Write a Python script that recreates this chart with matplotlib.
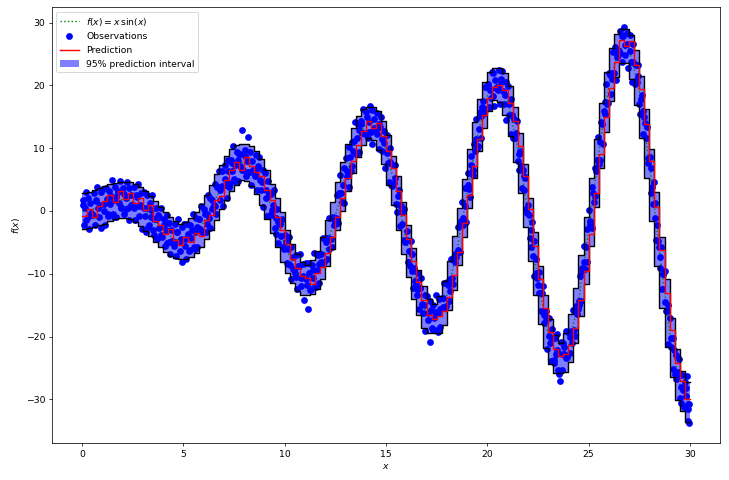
import matplotlib.pyplot as plt

# true curve, every half unit
true_x = [0, 0.5, 1, 1.5, 2, 2.5, 3, 3.5, 4, 4.5, 5, 5.5, 6, 6.5, 7, 7.5, 8, 8.5, 9, 9.5,
          10, 10.5, 11, 11.5, 12, 12.5, 13, 13.5, 14, 14.5, 15, 15.5, 16, 16.5, 17, 17.5,
          18, 18.5, 19, 19.5, 20, 20.5, 21, 21.5, 22, 22.5, 23, 23.5, 24, 24.5, 25, 25.5,
          26, 26.5, 27, 27.5, 28, 28.5, 29, 29.5, 30]
true_y = [0, 0.2, 0.8, 1.5, 1.8, 1.5, 0.4, -1.2, -3.0, -4.4,
          -4.8, -3.9, -1.7, 1.4, 4.6, 7.0, 7.9, 6.8, 3.7, -0.7,
          -5.4, -9.2, -11.0, -10.1, -6.4, -0.8, 5.5, 10.9, 13.9, 13.6,
          9.8, 3.2, -4.6, -11.7, -16.3, -17.1, -13.5, -6.3, 2.8, 11.8,
          18.3, 20.4, 17.6, 10.1, -0.2, -11.0, -19.5, -23.5, -21.7, -14.5,
          -3.3, 9.2, 19.8, 25.9, 25.8, 19.2, 7.6, -6.4, -19.3, -27.8,
          -29.6]

# observations
obs_x = [
    0.03, 0.09, 0.15, 0.21, 0.27, 0.33, 0.39, 0.46, 0.51, 0.57, 0.63, 0.69, 0.75, 0.81, 0.88, 0.94,
    1.03, 1.09, 1.15, 1.21, 1.27, 1.33, 1.39, 1.46, 1.51, 1.57, 1.63, 1.69, 1.75, 1.81, 1.88, 1.94,
    2.03, 2.09, 2.15, 2.21, 2.27, 2.33, 2.39, 2.46, 2.51, 2.57, 2.63, 2.69, 2.75, 2.81, 2.88, 2.94,
    3.03, 3.09, 3.15, 3.21, 3.27, 3.33, 3.39, 3.46, 3.51, 3.57, 3.63, 3.69, 3.75, 3.81, 3.88, 3.94,
    4.03, 4.09, 4.15, 4.21, 4.27, 4.33, 4.39, 4.46, 4.51, 4.57, 4.63, 4.69, 4.75, 4.81, 4.88, 4.94,
    5.03, 5.09, 5.15, 5.21, 5.27, 5.33, 5.39, 5.46, 5.51, 5.57, 5.63, 5.69, 5.75, 5.81, 5.88, 5.94,
    6.03, 6.09, 6.15, 6.21, 6.27, 6.33, 6.39, 6.46, 6.51, 6.57, 6.63, 6.69, 6.75, 6.81, 6.88, 6.94,
    7.03, 7.09, 7.15, 7.21, 7.27, 7.33, 7.39, 7.46, 7.51, 7.57, 7.63, 7.69, 7.75, 7.81, 7.88, 7.94,
    8.03, 8.09, 8.15, 8.21, 8.27, 8.33, 8.39, 8.46, 8.51, 8.57, 8.63, 8.69, 8.75, 8.81, 8.88, 8.94,
    9.03, 9.09, 9.15, 9.21, 9.27, 9.33, 9.39, 9.46, 9.51, 9.57, 9.63, 9.69, 9.75, 9.81, 9.88, 9.94,
    10.03, 10.09, 10.15, 10.21, 10.27, 10.33, 10.39, 10.46, 10.51, 10.57, 10.63, 10.69, 10.75, 10.81, 10.88, 10.94,
    11.03, 11.09, 11.15, 11.21, 11.27, 11.33, 11.39, 11.46, 11.51, 11.57, 11.63, 11.69, 11.75, 11.81, 11.88, 11.94,
    12.03, 12.09, 12.15, 12.21, 12.27, 12.33, 12.39, 12.46, 12.51, 12.57, 12.63, 12.69, 12.75, 12.81, 12.88, 12.94,
    13.03, 13.09, 13.15, 13.21, 13.27, 13.33, 13.39, 13.46, 13.51, 13.57, 13.63, 13.69, 13.75, 13.81, 13.88, 13.94,
    14.03, 14.09, 14.15, 14.21, 14.27, 14.33, 14.39, 14.46, 14.51, 14.57, 14.63, 14.69, 14.75, 14.81, 14.88, 14.94,
    15.03, 15.09, 15.15, 15.21, 15.27, 15.33, 15.39, 15.46, 15.51, 15.57, 15.63, 15.69, 15.75, 15.81, 15.88, 15.94,
    16.03, 16.09, 16.15, 16.21, 16.27, 16.33, 16.39, 16.46, 16.51, 16.57, 16.63, 16.69, 16.75, 16.81, 16.88, 16.94,
    17.03, 17.09, 17.15, 17.21, 17.27, 17.33, 17.39, 17.46, 17.51, 17.57, 17.63, 17.69, 17.75, 17.81, 17.88, 17.94,
    18.03, 18.09, 18.15, 18.21, 18.27, 18.33, 18.39, 18.46, 18.51, 18.57, 18.63, 18.69, 18.75, 18.81, 18.88, 18.94,
    19.03, 19.09, 19.15, 19.21, 19.27, 19.33, 19.39, 19.46, 19.51, 19.57, 19.63, 19.69, 19.75, 19.81, 19.88, 19.94,
    20.03, 20.09, 20.15, 20.21, 20.27, 20.33, 20.39, 20.46, 20.51, 20.57, 20.63, 20.69, 20.75, 20.81, 20.88, 20.94,
    21.03, 21.09, 21.15, 21.21, 21.27, 21.33, 21.39, 21.46, 21.51, 21.57, 21.63, 21.69, 21.75, 21.81, 21.88, 21.94,
    22.03, 22.09, 22.15, 22.21, 22.27, 22.33, 22.39, 22.46, 22.51, 22.57, 22.63, 22.69, 22.75, 22.81, 22.88, 22.94,
    23.03, 23.09, 23.15, 23.21, 23.27, 23.33, 23.39, 23.46, 23.51, 23.57, 23.63, 23.69, 23.75, 23.81, 23.88, 23.94,
    24.03, 24.09, 24.15, 24.21, 24.27, 24.33, 24.39, 24.46, 24.51, 24.57, 24.63, 24.69, 24.75, 24.81, 24.88, 24.94,
    25.03, 25.09, 25.15, 25.21, 25.27, 25.33, 25.39, 25.46, 25.51, 25.57, 25.63, 25.69, 25.75, 25.81, 25.88, 25.94,
    26.03, 26.09, 26.15, 26.21, 26.27, 26.33, 26.39, 26.46, 26.51, 26.57, 26.63, 26.69, 26.75, 26.81, 26.88, 26.94,
    27.03, 27.09, 27.15, 27.21, 27.27, 27.33, 27.39, 27.46, 27.51, 27.57, 27.63, 27.69, 27.75, 27.81, 27.88, 27.94,
    28.03, 28.09, 28.15, 28.21, 28.27, 28.33, 28.39, 28.46, 28.51, 28.57, 28.63, 28.69, 28.75, 28.81, 28.88, 28.94,
    29.03, 29.09, 29.15, 29.21, 29.27, 29.33, 29.39, 29.46, 29.51, 29.57, 29.63, 29.69, 29.75, 29.81, 29.88, 29.94,
    29.90, 29.93, 29.98,
    0.06, 0.18, 0.30, 0.42, 0.55, 0.67, 0.79, 0.91, 1.06, 1.18, 1.30, 1.42, 1.55, 1.67, 1.79, 1.91,
    2.06, 2.18, 2.30, 2.42, 2.55, 2.67, 2.79, 2.91, 3.06, 3.18, 3.30, 3.42, 3.55, 3.67, 3.79, 3.91,
    4.06, 4.18, 4.30, 4.42, 4.55, 4.67, 4.79, 4.91, 5.06, 5.18, 5.30, 5.42, 5.55, 5.67, 5.79, 5.91,
    6.06, 6.18, 6.30, 6.42, 6.55, 6.67, 6.79, 6.91, 7.06, 7.18, 7.30, 7.42, 7.55, 7.67, 7.79, 7.91,
    8.06, 8.18, 8.30, 8.42, 8.55, 8.67, 8.79, 8.91, 9.06, 9.18, 9.30, 9.42, 9.55, 9.67, 9.79, 9.91,
    10.06, 10.18, 10.30, 10.42, 10.55, 10.67, 10.79, 10.91, 11.06, 11.18, 11.30, 11.42, 11.55, 11.67, 11.79, 11.91,
    12.06, 12.18, 12.30, 12.42, 12.55, 12.67, 12.79, 12.91, 13.06, 13.18, 13.30, 13.42, 13.55, 13.67, 13.79, 13.91,
    14.06, 14.18, 14.30, 14.42, 14.55, 14.67, 14.79, 14.91, 15.06, 15.18, 15.30, 15.42, 15.55, 15.67, 15.79, 15.91,
    16.06, 16.18, 16.30, 16.42, 16.55, 16.67, 16.79, 16.91, 17.06, 17.18, 17.30, 17.42, 17.55, 17.67, 17.79, 17.91,
    18.06, 18.18, 18.30, 18.42, 18.55, 18.67, 18.79, 18.91, 19.06, 19.18, 19.30, 19.42, 19.55, 19.67, 19.79, 19.91,
    20.06, 20.18, 20.30, 20.42, 20.55, 20.67, 20.79, 20.91, 21.06, 21.18, 21.30, 21.42, 21.55, 21.67, 21.79, 21.91,
    22.06, 22.18, 22.30, 22.42, 22.55, 22.67, 22.79, 22.91, 23.06, 23.18, 23.30, 23.42, 23.55, 23.67, 23.79, 23.91,
    24.06, 24.18, 24.30, 24.42, 24.55, 24.67, 24.79, 24.91, 25.06, 25.18, 25.30, 25.42, 25.55, 25.67, 25.79, 25.91,
    26.06, 26.18, 26.30, 26.42, 26.55, 26.67, 26.79, 26.91, 27.06, 27.18, 27.30, 27.42, 27.55, 27.67, 27.79, 27.91,
    28.06, 28.18, 28.30, 28.42, 28.55, 28.67, 28.79, 28.91, 29.06, 29.18, 29.30, 29.42, 29.55, 29.67, 29.79, 29.91]
obs_y = [
    1.8, -2.2, 0.5, 3.0, -1.0, -2.9, 1.2, -0.3, -0.4, 2.8, -2.3, 1.6, 3.8, -1.0, 0.9, -2.7,
    3.5, 0.0, -2.2, 1.9, -0.8, 3.2, 1.1, 5.0, -0.4, 1.8, 3.8, -1.0, 3.2, 1.3, 4.7, 0.5,
    3.6, -0.5, 2.1, 4.6, 0.5, -1.4, 2.6, 1.0, 0.9, 3.8, -1.5, 2.3, 4.3, -0.8, 0.9, -2.9,
    3.0, -0.8, -3.3, 0.5, -2.5, 1.2, -1.0, 2.5, -3.1, -1.2, 0.5, -4.5, -0.6, -2.7, 0.4, -4.1,
    -1.3, -5.5, -3.0, -0.7, -4.9, -6.9, -3.1, -4.8, -5.0, -2.0, -7.2, -3.4, -1.3, -6.3, -4.5, -8.2,
    -2.0, -5.5, -7.7, -3.6, -6.3, -2.3, -4.3, -0.4, -5.8, -3.3, -1.1, -5.7, -1.3, -2.9, 0.8, -3.3,
    0.3, -3.3, -0.4, 2.5, -1.1, -2.7, 1.7, 0.6, 0.9, 4.3, -0.5, 3.8, 6.3, 1.8, 4.0, 0.8,
    7.4, 4.1, 2.1, 6.4, 3.9, 8.1, 6.3, 10.4, 5.1, 7.4, 9.4, 4.7, 9.0, 7.2, 12.9, 6.5,
    9.7, 5.5, 8.0, 11.8, 6.2, 4.2, 8.0, 6.4, 6.1, 8.9, 3.3, 6.8, 8.6, 3.3, 4.6, 0.7,
    6.1, 2.0, -0.8, 2.7, -0.7, 2.7, 0.1, 3.3, -2.7, -1.1, 0.3, -5.1, -1.6, -4.0, -1.3, -6.1,
    -3.8, -8.3, -6.1, -4.1, -8.6, -10.9, -7.4, -9.4, -9.8, -7.0, -12.4, -8.7, -6.8, -11.9, -10.4, -14.2,
    -8.3, -11.8, -15.6, -9.9, -12.6, -8.6, -10.6, -6.7, -12.0, -9.4, -7.0, -11.4, -6.8, -8.2, -4.3, -8.2,
    -4.3, -7.6, -4.3, -1.1, -4.5, -5.7, -1.0, -1.7, -1.3, 2.6, -1.9, 2.8, 5.7, 1.5, 4.2, 1.3,
    8.5, 5.6, 3.9, 8.6, 6.4, 11.0, 9.5, 14.1, 9.1, 11.6, 13.9, 9.4, 13.9, 12.4, 16.2, 12.2,
    15.7, 11.7, 14.2, 16.7, 12.6, 10.7, 14.7, 13.1, 12.9, 15.6, 9.9, 13.4, 15.0, 9.6, 10.9, 6.9,
    12.1, 7.7, 4.6, 7.8, 4.2, 7.3, 4.5, 7.3, 1.1, 2.4, 3.4, -2.4, 0.8, -2.0, 0.3, -5.0,
    -3.2, -8.1, -6.3, -4.7, -9.5, -12.3, -9.1, -11.6, -12.4, -9.8, -15.6, -12.2, -10.7, -16.2, -15.0, -19.1,
    -13.6, -17.3, -20.9, -15.8, -18.7, -14.9, -17.1, -13.4, -18.9, -16.3, -14.0, -18.4, -13.8, -15.3, -11.4, -15.2,
    -11.3, -14.4, -10.9, -7.6, -10.7, -11.7, -6.9, -7.4, -6.7, -2.5, -6.6, -1.6, 1.5, -2.3, 0.8, -1.7,
    6.0, 3.5, 2.3, 7.4, 5.7, 10.6, 9.6, 14.7, 10.0, 13.0, 15.7, 11.7, 16.6, 15.4, 19.7, 16.2,
    20.2, 16.5, 19.3, 22.1, 18.3, 16.7, 20.9, 19.7, 19.7, 22.5, 17.0, 20.5, 22.3, 17.1, 18.5, 14.5,
    19.9, 15.3, 12.2, 15.3, 11.6, 14.6, 11.6, 14.3, 8.0, 9.0, 9.6, 3.6, 6.5, 3.3, 5.3, -0.3,
    1.0, -4.3, -3.0, -1.8, -7.1, -10.3, -7.6, -10.6, -11.8, -9.7, -15.9, -13.0, -12.0, -17.9, -17.3, -21.9,
    -17.0, -21.1, -23.9, -20.4, -23.7, -20.2, -22.8, -19.6, -25.3, -27.0, -20.8, -25.4, -21.1, -22.8, -19.1, -23.2,
    -19.5, -22.6, -19.1, -15.8, -18.9, -19.9, -15.1, -15.6, -14.9, -10.4, -14.3, -9.0, -5.6, -9.2, -5.8, -8.2,
    0.1, -2.0, -2.7, 2.8, 1.5, 6.9, 6.3, 11.8, 7.5, 11.0, 14.2, 10.6, 16.0, 15.4, 20.3, 17.2,
    22.0, 18.7, 22.0, 25.3, 22.0, 20.8, 25.6, 24.9, 25.4, 28.7, 23.7, 27.8, 29.3, 24.9, 26.6, 22.7,
    28.1, 23.7, 20.6, 23.8, 20.2, 23.3, 20.5, 23.3, 17.1, 17.9, 18.4, 12.2, 14.9, 11.6, 13.4, 7.7,
    8.6, 2.9, 3.8, 4.6, -1.1, -4.6, -2.3, -5.8, -7.3, -5.7, -12.5, -10.1, -9.6, -16.0, -16.0, -21.2,
    -17.1, -21.7, -25.1, -22.1, -25.9, -23.0, -26.1, -23.5, -29.8, -28.0, -26.1, -31.2, -27.2, -29.4, -26.3, -30.8,
    -31.5, -33.4, -33.8,
    0.9, -1.4, 2.1, -0.4, -0.7, 1.7, 0.5, 3.0, 1.1, 3.7, -0.5, 2.4, -0.9, 2.3, 3.1, 0.6,
    2.7, 0.3, 3.7, 1.0, 0.4, 2.5, 0.8, 2.9, 0.4, 2.5, -2.3, 0.1, -3.8, -1.3, -0.9, -3.9,
    -2.3, -5.1, -1.9, -4.8, -5.5, -3.4, -4.9, -2.5, -4.5, -2.0, -6.2, -3.1, -6.1, -2.6, -1.3, -3.3,
    -0.4, -2.1, 2.1, 0.3, 0.8, 3.9, 3.3, 6.4, 5.1, 8.2, 4.4, 7.7, 4.8, 8.1, 9.1, 6.6,
    8.7, 6.2, 9.4, 6.5, 5.5, 7.2, 5.0, 6.6, 3.4, 4.7, -0.7, 1.0, -3.6, -1.8, -2.1, -5.8,
    -5.0, -8.4, -5.8, -9.3, -10.5, -8.8, -10.7, -8.5, -10.8, -8.3, -12.5, -9.4, -12.1, -8.4, -6.8, -8.3,
    -4.9, -6.0, -1.1, -2.3, -1.1, 2.7, 2.8, 6.8, 6.4, 10.2, 7.1, 11.1, 9.0, 12.9, 14.4, 12.4,
    14.9, 12.6, 16.1, 13.2, 12.2, 13.8, 11.5, 12.8, 9.2, 10.0, 4.0, 5.3, -0.2, 0.9, -0.2, -4.6,
    -4.6, -8.7, -6.9, -11.2, -13.3, -12.3, -14.8, -13.4, -16.3, -14.4, -19.0, -16.1, -19.2, -15.6, -13.9, -15.4,
    -11.8, -12.7, -7.5, -8.2, -6.2, -1.8, -1.1, 3.6, 4.1, 8.8, 6.6, 11.4, 10.3, 15.1, 17.5, 16.2,
    19.6, 18.0, 22.0, 19.6, 19.2, 21.1, 19.1, 20.5, 17.0, 17.8, 11.7, 12.4, 6.5, 7.2, 5.5, 0.3,
    -0.6, -5.7, -4.8, -9.9, -13.1, -13.1, -16.6, -16.0, -19.9, -18.8, -24.2, -22.1, -25.9, -22.8, -21.6, -23.4,
    -20.1, -21.0, -15.9, -16.4, -14.3, -9.5, -8.2, -2.9, -1.6, 3.8, 2.4, 8.2, 8.2, 13.9, 17.3, 17.0,
    21.6, 21.0, 26.1, 24.6, 25.1, 27.8, 26.4, 28.4, 25.4, 26.6, 20.7, 21.5, 15.5, 16.0, 14.0, 8.4,
    6.8, 1.1, 1.3, -4.7, -9.0, -10.0, -14.5, -15.0, -20.3, -20.2, -26.7, -25.6, -30.6, -28.5, -28.2, -30.8]

# median prediction (step values)
pred_x = [0, 0.25, 0.5, 0.75, 1, 1.25, 1.5, 1.75, 2, 2.25, 2.5, 2.75, 3, 3.25, 3.5, 3.75,
          4, 4.25, 4.5, 4.75, 5, 5.25, 5.5, 5.75, 6, 6.25, 6.5, 6.75, 7, 7.25, 7.5, 7.75,
          8, 8.25, 8.5, 8.75, 9, 9.25, 9.5, 9.75, 10, 10.25, 10.5, 10.75, 11, 11.25, 11.5, 11.75,
          12, 12.25, 12.5, 12.75, 13, 13.25, 13.5, 13.75, 14, 14.25, 14.5, 14.75, 15, 15.25, 15.5, 15.75,
          16, 16.25, 16.5, 16.75, 17, 17.25, 17.5, 17.75, 18, 18.25, 18.5, 18.75, 19, 19.25, 19.5, 19.75,
          20, 20.25, 20.5, 20.75, 21, 21.25, 21.5, 21.75, 22, 22.25, 22.5, 22.75, 23, 23.25, 23.5, 23.75,
          24, 24.25, 24.5, 24.75, 25, 25.25, 25.5, 25.75, 26, 26.25, 26.5, 26.75, 27, 27.25, 27.5, 27.75,
          28, 28.25, 28.5, 28.75, 29, 29.25, 29.5, 29.75, 30]
pred_y = [-0.8, 0.3, -0.9, 0.8, 1.6, 2.6, 1.4, 3.2, 1.9, 2.8, 1.2, 2.0, 0.2, 0.9, -1.6, -2.2,
          -3.6, -2.8, -4.6, -5.4, -4.2, -5.0, -3.5, -4.0, -1.4, -0.6, 1.8, 2.4, 4.9, 6.6, 7.8, 6.5,
          8.6, 7.2, 6.2, 5.6, 3.4, 1.8, -0.9, -3.0, -5.2, -7.6, -9.0, -10.4, -10.6, -11.6, -9.8, -8.9,
          -6.7, -4.1, -1.0, 2.0, 5.3, 8.0, 10.5, 12.8, 14.3, 13.2, 14.0, 12.0, 9.5, 6.8, 3.2, -0.6,
          -4.4, -8.0, -11.3, -14.2, -16.5, -17.2, -16.8, -15.9, -13.7, -10.2, -6.6, -1.9, 2.6, 7.2, 11.5, 15.3,
          18.0, 19.8, 20.1, 19.3, 17.2, 14.4, 10.4, 5.5, 0.3, -5.6, -10.8, -15.4, -19.2, -21.9, -23.1, -22.7,
          -21.3, -18.6, -14.2, -9.5, -3.6, 2.8, 9.0, 14.9, 19.6, 23.7, 27.3, 26.2, 27.0, 23.3, 19.5, 13.9,
          7.9, 0.6, -6.2, -13.1, -19.0, -24.2, -27.0, -30.0, -30.0]

# 95% interval bounds (step values on the same grid)
upper = [2.9, 3.0, 3.3, 3.6, 4.0, 4.3, 4.5, 4.6, 4.6, 4.55, 4.3, 3.85, 3.2, 2.45, 1.6, 0.65,
         -0.2, -1.0, -1.6, -2.0, -1.7, -1.1, -0.2, 1.1, 2.6, 4.2, 5.9, 7.4, 8.8, 9.8, 10.5, 10.7,
         10.7, 10.4, 9.6, 8.3, 6.5, 4.3, 2.1, -0.2, -3.1, -5.2, -6.9, -8.2, -8.6, -7.8, -6.3, -4.1,
         -1.4, 1.5, 4.6, 7.8, 10.7, 13.2, 15.1, 16.2, 16.5, 16.5, 15.9, 14.3, 12.1, 8.8, 5.5, 1.5,
         -2.3, -5.9, -9.4, -12.0, -14.0, -14.8, -13.5, -11.2, -8.0, -4.0, 0.4, 5.1, 9.8, 14.1, 17.8, 20.6,
         22.2, 22.7, 22.7, 21.9, 19.9, 16.6, 12.4, 7.5, 2.1, -3.4, -8.7, -13.4, -17.2, -19.8, -21.0, -19.4,
         -16.4, -12.2, -7.0, -1.0, 5.3, 11.5, 17.2, 22.1, 25.9, 28.2, 29.0, 29.0, 28.1, 25.6, 21.5, 16.2,
         9.9, 3.0, -4.1, -10.9, -17.0, -21.9, -25.5, -27.3, -27.3]
lower = [-2.8, -2.7, -2.6, -2.3, -2.0, -1.6, -1.3, -1.1, -1.05, -1.3, -1.75, -2.4, -3.15, -4.0, -4.95, -5.8,
         -6.6, -7.2, -7.56, -7.6, -7.6, -7.3, -6.7, -5.8, -4.5, -3.0, -1.4, 0.3, 1.8, 3.2, 4.2, 4.9,
         4.8, 4.0, 2.7, 0.9, -1.3, -3.5, -5.8, -8.2, -9.8, -11.5, -12.8, -13.3, -13.3, -13.2, -12.4, -10.9,
         -8.7, -6.0, -3.1, 0.0, 3.2, 6.1, 8.6, 10.5, 11.6, 11.3, 9.7, 7.5, 4.2, 0.9, -3.1, -6.9,
         -10.5, -14.0, -16.6, -18.6, -19.5, -19.5, -19.4, -18.1, -15.8, -12.6, -8.6, -4.2, 0.5, 5.2, 9.5, 13.2,
         16.0, 17.6, 17.3, 15.3, 12.0, 7.8, 2.9, -2.5, -8.0, -13.3, -18.0, -21.8, -24.4, -25.8, -25.8, -25.6,
         -24.0, -21.0, -16.8, -11.6, -5.6, 0.7, 6.9, 12.6, 17.5, 21.3, 23.6, 23.5, 21.0, 16.9, 11.6, 5.3,
         -1.6, -8.7, -15.5, -21.6, -26.5, -30.1, -31.9, -33.6, -33.6]

fig = plt.figure(figsize=(729 / 67, 480 / 67), dpi=67)
fig.subplots_adjust(left=0.071, right=0.988, top=0.985, bottom=0.077)

band = plt.fill_between(pred_x, lower, upper, step='post', color='b', alpha=0.5, lw=0,
                        label='95% prediction interval')
l_true, = plt.plot(true_x, true_y, 'g:', label=r'$f(x) = x\,\sin(x)$')
l_obs, = plt.plot(obs_x, obs_y, 'bo', markersize=7.3, markeredgewidth=0, label='Observations')
plt.step(pred_x, upper, where='post', color='k')
plt.step(pred_x, lower, where='post', color='k')
l_pred, = plt.step(pred_x, pred_y, where='post', color='r', label='Prediction')
plt.xlabel('$x$')
plt.ylabel('$f(x)$')
plt.legend(handles=[l_true, l_obs, l_pred, band], loc='upper left')
plt.savefig('out.png', dpi=67)
